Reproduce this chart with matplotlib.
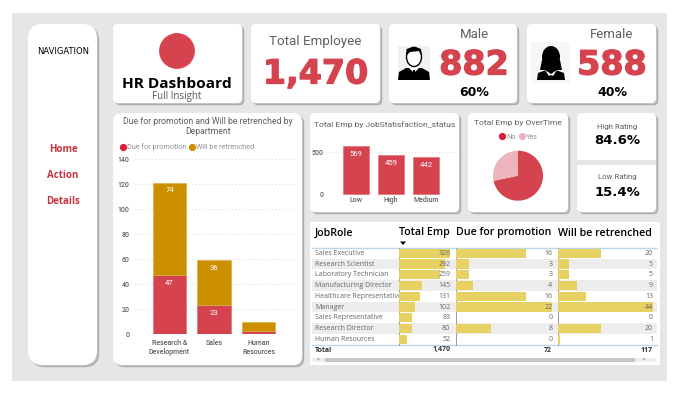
"""HR dashboard recreated on a pixel-sized canvas."""
import matplotlib

matplotlib.use("Agg")
import matplotlib.patheffects as pe
import matplotlib.pyplot as plt
from matplotlib.lines import Line2D
from matplotlib.patches import Circle, Ellipse, FancyBboxPatch, Polygon, Rectangle

W, H = 680, 393
RED = "#D5434F"
RED_EDGE = "#E2707A"
DARK_RED = "#D81E3A"
GOLD = "#CC8F00"
YELLOW = "#E8D163"
PINK = "#EDB5BB"
PANEL = "#E6E6E6"
STRIPE = "#EDEDED"
GREY_TEXT = "#5F5F5F"
BLUE_LINE = "#BBD7EE"

departments = ["Research &\nDevelopment", "Sales", "Human\nResources"]
dept_promotion = [47, 23, 2]
dept_retrenched = [74, 36, 7]
dept_ticks = [0, 20, 40, 60, 80, 100, 120, 140]

satisfaction = ["Low", "High", "Medium"]
satisfaction_emp = [569, 459, 442]
satisfaction_ticks = [0, 500]

overtime = ["No", "Yes"]
overtime_emp = [1054, 416]

job_roles = [
    "Sales Executive",
    "Research Scientist",
    "Laboratory Technician",
    "Manufacturing Director",
    "Healthcare Representative",
    "Manager",
    "Sales Representative",
    "Research Director",
    "Human Resources",
]
role_total = [326, 292, 259, 145, 131, 102, 83, 80, 52]
role_promotion = [16, 3, 3, 4, 16, 22, 0, 8, 0]
role_retrenched = [20, 5, 5, 9, 13, 44, 0, 20, 1]
table_totals = ["1,470", "72", "117"]

plt.rcParams["font.family"] = ["Roboto", "DejaVu Sans"]
fig = plt.figure(figsize=(W / 100, H / 100), dpi=100, facecolor="white")
bg = fig.add_axes([0, 0, 1, 1])
bg.set_xlim(0, W)
bg.set_ylim(H, 0)
bg.axis("off")


def inset(x0, y0, x1, y1):
    """Transparent axes placed by pixel box (top-left origin)."""
    ax = fig.add_axes([x0 / W, 1 - y1 / H, (x1 - x0) / W, (y1 - y0) / H])
    ax.patch.set_alpha(0)
    return ax


def card(x0, y0, x1, y1, radius=5):
    for off, col in ((2.2, "#A8A8A8"), (1.2, "#C4C4C4")):
        bg.add_patch(FancyBboxPatch(
            (x0 + radius + off, y0 + radius + off), x1 - x0 - 2 * radius, y1 - y0 - 2 * radius,
            boxstyle=f"round,pad={radius},rounding_size={radius}", fc=col, ec="none", zorder=1))
    bg.add_patch(FancyBboxPatch(
        (x0 + radius, y0 + radius), x1 - x0 - 2 * radius, y1 - y0 - 2 * radius,
        boxstyle=f"round,pad={radius},rounding_size={radius}", fc="white", ec="none", zorder=2))


def label(x, y, s, size, color="black", weight="normal", ha="center", family=None):
    kw = {"family": family} if family else {}
    return bg.text(x, y, s, fontsize=size, color=color, fontweight=weight, ha=ha, va="center", zorder=5, **kw)


def big_number(x, y, s):
    txt = label(x, y, s, 24, color=RED, weight="bold", family="DejaVu Sans")
    txt.set_path_effects([pe.withStroke(linewidth=0.9, foreground=RED)])


bg.add_patch(Rectangle((12, 13), 655, 368, fc=PANEL, ec="none", zorder=0))

card(28, 24, 97, 365, radius=15)
card(113, 24, 242, 103)
card(251, 24, 380, 103)
card(389, 24, 517, 103)
card(527, 24, 656, 103)
card(113, 113, 302, 365, radius=9)
card(310, 113, 459, 212)
card(468, 113, 568, 212)
card(577, 113, 656, 212)
bg.add_patch(Rectangle((577, 160), 79, 5, fc=PANEL, ec="none", zorder=3))
bg.add_patch(Rectangle((310, 222), 350, 143, fc="white", ec="none", zorder=2))

# navigation
label(63, 51, "NAVIGATION", 6, family="DejaVu Sans")
for y, s in zip((150, 176, 202), ("Home", "Action", "Details")):
    label(63, y, s, 7, color="#C8323F", weight="bold", family="Open Sans")

# header cards
bg.add_patch(Circle((177, 51), 17.5, fc=RED, ec="#E04A55", lw=0.6, zorder=4))
label(177, 84, "HR Dashboard", 11.1, weight="bold", family="Open Sans")
label(177, 96, "Full Insight", 7, color="#555555", family="Open Sans")
label(315, 41, "Total Employee", 9.6, color=GREY_TEXT)
big_number(315.5, 74, "1,470")

label(474, 34, "Male", 9.5, color=GREY_TEXT)
big_number(474, 65, "882")
label(474, 92, "60%", 9, weight="bold", family="DejaVu Sans")
label(612, 34, "Female", 9.5, color=GREY_TEXT)
big_number(612, 65, "588")
label(612, 92, "40%", 9, weight="bold", family="DejaVu Sans")

# male icon
bg.add_patch(Rectangle((398, 46), 32, 34, fc="#F2F2F2", ec="none", zorder=3))
bg.add_patch(Polygon([(398, 80), (399, 72), (406, 68), (422, 68), (429, 72), (430, 80)], fc="black", ec="none", zorder=4))
bg.add_patch(Polygon([(409, 68), (414, 73), (419, 68)], fc="white", ec="none", zorder=5))
bg.add_patch(Polygon([(413, 70), (415, 70), (415.5, 78), (414, 80), (412.5, 78)], fc="black", ec="none", zorder=6))
bg.add_patch(Ellipse((414, 57), 15, 19, fc="white", ec="black", lw=1, zorder=5))
bg.add_patch(Polygon([(406, 56), (406.5, 49), (414, 46.5), (421, 49), (422, 56), (419, 51), (410, 52)], fc="black", ec="none", zorder=6))
# female icon
bg.add_patch(Rectangle((531, 42), 39, 41, fc="#F6F6F6", ec="none", zorder=3))
bg.add_patch(Ellipse((551, 57), 18, 22, fc="black", ec="none", zorder=4))
bg.add_patch(Polygon([(542, 60), (560, 60), (562, 70), (540, 70)], fc="black", ec="none", zorder=4))
bg.add_patch(Polygon([(537, 80), (538, 73), (546, 70), (556, 70), (564, 73), (565, 80)], fc="black", ec="none", zorder=4))
bg.add_patch(Polygon([(545, 70), (551, 74), (557, 70), (553, 76), (551, 75), (549, 76)], fc="white", ec="none", zorder=5))

# stacked department chart
label(208, 122, "Due for promotion and Will be retrenched by", 6.2, color=GREY_TEXT)
label(208, 132, "Department", 6.2, color=GREY_TEXT)
ax = inset(135, 159.3, 295, 333.7)
ax.set_xlim(-0.775, 2.82)
ax.set_ylim(0, 140)
ax.bar(range(3), dept_promotion, width=0.75, color=RED, edgecolor=RED_EDGE, linewidth=0.5, zorder=3)
ax.bar(range(3), dept_retrenched, width=0.75, bottom=dept_promotion, color=GOLD, edgecolor="#DDB14A", linewidth=0.5, zorder=3)
for i in range(2):
    ax.text(i, dept_promotion[i] - 6, str(dept_promotion[i]), color="white", fontsize=5.5, ha="center", va="center", zorder=4)
    ax.text(i, dept_promotion[i] + dept_retrenched[i] - 6, str(dept_retrenched[i]), color="white", fontsize=5.5, ha="center", va="center", zorder=4)
ax.set_yticks(dept_ticks)
ax.set_xticks(range(3), departments)
ax.grid(axis="y", color="#C8C8C8", linestyle=(0, (1, 3)), linewidth=0.6)
ax.set_axisbelow(True)
ax.tick_params(length=0, labelsize=5, labelcolor=GREY_TEXT, pad=4)
for lab in ax.get_yticklabels() + ax.get_xticklabels():
    lab.set_fontweight("medium")
for s in ax.spines.values():
    s.set_visible(False)
ax.legend(
    handles=[
        Line2D([], [], marker="o", ls="", ms=4.2, color=DARK_RED, label="Due for promotion"),
        Line2D([], [], marker="o", ls="", ms=4.2, color=GOLD, label="Will be retrenched"),
    ],
    loc="center left", bbox_to_anchor=(119 / W, 1 - 147.5 / H), bbox_transform=fig.transFigure,
    ncol=2, frameon=False, fontsize=5.2, labelcolor="#909090", handlelength=1, handletextpad=0.05,
    columnspacing=0.35, borderpad=0, borderaxespad=0,
)

# job satisfaction chart
label(384.5, 124.5, "Total Emp by JobStatisfaction_status", 6.1, color=GREY_TEXT)
ax = inset(325, 152, 457, 193.7)
ax.set_xlim(-0.886, 2.886)
ax.set_ylim(0, 500)
ax.bar(range(3), satisfaction_emp, width=0.75, color=RED, edgecolor=RED_EDGE, linewidth=0.5, zorder=3, clip_on=False)
for i, v in enumerate(satisfaction_emp):
    ax.text(i, v - 95, str(v), color="white", fontsize=5.5, ha="center", va="center", zorder=4)
ax.set_yticks(satisfaction_ticks)
ax.set_xticks(range(3), satisfaction)
ax.grid(axis="y", color="#D0D0D0", linestyle=(0, (1, 3)), linewidth=0.6)
ax.set_axisbelow(True)
ax.tick_params(axis="y", length=0, labelsize=5, labelcolor=GREY_TEXT, pad=1)
ax.tick_params(axis="x", length=0, labelsize=5, labelcolor=GREY_TEXT, pad=2)
for lab in ax.get_yticklabels() + ax.get_xticklabels():
    lab.set_fontweight("medium")
for s in ax.spines.values():
    s.set_visible(False)

# overtime pie
label(518, 122.5, "Total Emp by OverTime", 6.1, color=GREY_TEXT)
ax = inset(493, 150.7, 543, 200.7)
ax.pie(overtime_emp, colors=[RED, PINK], startangle=90, counterclock=False, radius=1,
       wedgeprops={"linewidth": 0})
ax.set_xlim(-1, 1)
ax.set_ylim(-1, 1)
ax.legend(
    handles=[
        Line2D([], [], marker="o", ls="", ms=4.2, color=DARK_RED, label=overtime[0]),
        Line2D([], [], marker="o", ls="", ms=4.2, color=PINK, label=overtime[1]),
    ],
    loc="center", bbox_to_anchor=(518 / W, 1 - 137.5 / H), bbox_transform=fig.transFigure,
    ncol=2, frameon=False, fontsize=5.2, labelcolor="#909090", handlelength=1, handletextpad=0.05,
    columnspacing=0.35, borderpad=0, borderaxespad=0,
)

# rating cards
label(617, 127.5, "High Rating", 5.7, color=GREY_TEXT)
label(617, 141, "84.6%", 9.5, weight="bold", family="DejaVu Sans")
label(617, 177.5, "Low Rating", 5.7, color=GREY_TEXT)
label(617, 192.5, "15.4%", 9.5, weight="bold", family="DejaVu Sans")

# job role table
ROW_TOP, ROW_H = 247.9, 10.75
n_rows = len(job_roles)
for i in range(1, n_rows, 2):
    bg.add_patch(Rectangle((312, ROW_TOP + i * ROW_H), 345, ROW_H, fc=STRIPE, ec="none", zorder=3))
for i, role in enumerate(job_roles):
    label(315, ROW_TOP + (i + 0.5) * ROW_H, role, 5, color="#666666", ha="left", family="Open Sans")
for y in (247.7, 345):
    bg.plot([312, 657], [y, y], color=BLUE_LINE, lw=1, zorder=4)

head_size = 7.7
label(315, 233, "JobRole", head_size, weight="semibold", ha="left", family="Open Sans")
label(399, 233, "Total Emp", head_size, weight="semibold", ha="left", family="Open Sans")
label(455.5, 233, "Due for promotion", head_size, weight="semibold", ha="left", family="Open Sans")
label(557.5, 233, "Will be retrenched", head_size, weight="semibold", ha="left", family="Open Sans")
bg.add_patch(Polygon([(400, 241.5), (406, 241.5), (403, 245)], fc="black", ec="none", zorder=5))

columns = [
    (399.3, 450.3, role_total),
    (455.7, 552.3, role_promotion),
    (558, 653, role_retrenched),
]
for (x0, x1, values), total in zip(columns, table_totals):
    ax = inset(x0, ROW_TOP, x1, ROW_TOP + n_rows * ROW_H)
    ax.barh(range(n_rows), values, height=0.86, color=YELLOW, edgecolor="none", zorder=2)
    ax.set_xlim(0, max(values))
    ax.set_ylim(n_rows - 0.5, -0.5)
    ax.axis("off")
    for i, v in enumerate(values):
        ax.text(1.0, i, str(v), transform=ax.get_yaxis_transform(), ha="right", va="center",
                fontsize=5, color="#666666", family="Open Sans", zorder=3, clip_on=False)
    bg.plot([x0, x0], [ROW_TOP, ROW_TOP + n_rows * ROW_H], color="#8A8A8A", lw=0.6, zorder=4)
    label(x1, 350, total, 5, color="#333333", weight="bold", ha="right", family="Open Sans")
label(315, 350, "Total", 5, color="#333333", weight="bold", ha="left", family="Open Sans")

bg.add_patch(Rectangle((312, 358), 345, 4, fc="#F0F0F0", ec="none", zorder=3))
bg.add_patch(Rectangle((325, 358), 310, 4, fc="#C6C6C6", ec="none", zorder=4))
label(318, 360, "<", 4.5, color="#777777")
label(643, 360, ">", 4.5, color="#777777")

fig.savefig("out.png", dpi=100)
